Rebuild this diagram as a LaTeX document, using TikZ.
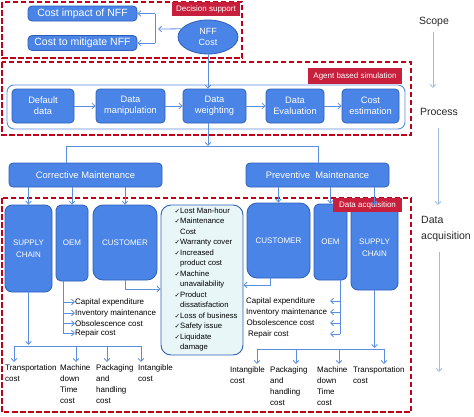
\documentclass[tikz,border=0pt]{standalone}
\usepackage{fontspec}
\setmainfont{Liberation Sans}
\newfontfamily\symfont{DejaVu Sans}
\usetikzlibrary{arrows.meta,shapes.geometric}
\definecolor{bfill}{HTML}{4A84E6}
\definecolor{bdark}{HTML}{2E5FB8}
\definecolor{lineb}{HTML}{5A8EE0}
\definecolor{lightb}{HTML}{9BBCEB}
\definecolor{dred}{HTML}{C00018}
\definecolor{lred}{HTML}{C8203C}
\definecolor{cyanf}{HTML}{E8F6F8}
\newcommand\ck{\makebox[5.5pt][l]{\symfont\fontsize{6.5}{6}\selectfont ✓}}
\tikzset{
  bbox/.style={draw=bdark, fill=bfill, line width=0.8pt, rounded corners=4pt, text=white, align=center, inner sep=0pt},
  dashbox/.style={draw=dred, line width=1.8pt, dash pattern=on 5.5pt off 2.5pt},
  redlab/.style={fill=lred, text=white, inner sep=0pt, font=\fontsize{8}{9}\selectfont},
  conn/.style={draw=lineb, line width=0.8pt},
  arr/.style={conn, -{Straight Barb[length=3pt,width=5.5pt]}},
  rarr/.style={draw=lightb, line width=0.8pt, -{Straight Barb[length=3pt,width=5.5pt]}},
  txt/.style={inner sep=0pt, text=black, font=\fontsize{8}{11}\selectfont, align=left},
  pbox/.style={bbox, font=\fontsize{9.3}{11}\selectfont, minimum height=34pt},
  sbox/.style={bbox, rounded corners=7pt, font=\fontsize{8}{12}\selectfont},
}
\begin{document}
\begin{tikzpicture}[x=1pt,y=-1pt]
\useasboundingbox (0,0) rectangle (474,416);
% ---------- Decision support ----------
\draw[dashbox] (2,2) rectangle (242,58);
\node[redlab, minimum width=68pt, minimum height=14pt] (dslab) at (206,9) {Decision support};
\node[bbox, minimum width=109pt, minimum height=15pt, font=\fontsize{10.5}{12}\selectfont] (cimp) at (82.5,13.5) {Cost impact of NFF};
\node[bbox, minimum width=109pt, minimum height=15pt, font=\fontsize{10.5}{12}\selectfont] (cmit) at (82.5,43) {Cost to mitigate NFF};
\node[ellipse, draw=bdark, fill=bfill, line width=0.8pt, text=white, align=center, inner sep=0pt, minimum width=60pt, minimum height=34pt, font=\fontsize{9}{11}\selectfont] (nff) at (208,37) {NFF\\Cost};
\coordinate (bar) at (155,29);
\draw[arr] (nff.163) -- (158,29);
\draw[conn] (155,13.5) -- (155,43);
\draw[arr] (cimp.east -| bar) -- (cimp.east);
\draw[arr] (cmit.east -| bar) -- (cmit.east);
% ---------- Agent based simulation ----------
\draw[dashbox] (2,62) rectangle (411,135);
\node[redlab, minimum width=94pt, minimum height=16pt] (ablab) at (355,76) {Agent based simulation};
\draw[draw=lineb, line width=0.9pt, fill=white, rounded corners=7pt] (7,85) rectangle (405,129);
\node[pbox, minimum width=62pt] (def) at (43,106) {Default\\data};
\node[pbox, minimum width=69pt] (man) at (130.5,106) {Data\\manipulation};
\node[pbox, minimum width=63pt] (wei) at (214.5,106) {Data\\weighting};
\node[pbox, minimum width=58pt] (eva) at (295,106) {Data\\Evaluation};
\node[pbox, minimum width=57pt] (est) at (370.5,106) {Cost\\estimation};
\draw[arr] (def) -- (man);
\draw[arr] (man) -- (wei);
\draw[arr] (wei) -- (eva);
\draw[arr] (eva) -- (est);
\draw[arr] (nff.south) -- (nff.south |- wei.north);
% ---------- Maintenance ----------
\node[bbox, minimum width=153pt, minimum height=24pt, font=\fontsize{9.4}{11}\selectfont] (corr) at (85.5,175) {Corrective Maintenance};
\node[bbox, minimum width=143pt, minimum height=24pt, font=\fontsize{9.4}{11}\selectfont] (prev) at (317.5,175) {Preventive~ Maintenance};
\coordinate (split) at (208,146);
\coordinate (cL) at (66,146);
\coordinate (cR) at (318,146);
\draw[arr] (wei.south -| split) -- (split);
\draw[conn] (corr.north -| cL) -- (cL) -- (cR) -- (prev.north -| cR);
% ---------- Data acquisition ----------
\draw[dashbox] (2,198) rectangle (411,412);
\node[sbox, minimum width=47pt, minimum height=87pt] (lsc) at (28.5,248.5) {SUPPLY\\CHAIN};
\node[sbox, rounded corners=5pt, minimum width=32pt, minimum height=76pt] (loem) at (72,243) {OEM};
\node[sbox, rounded corners=10pt, minimum width=64pt, minimum height=75pt] (lcus) at (125,242.5) {CUSTOMER};
\node[draw=bdark, fill=cyanf, line width=0.9pt, rounded corners=10pt, minimum width=82pt, minimum height=150pt, inner sep=0pt] (mid) at (202,280) {};
\node[sbox, rounded corners=10pt, minimum width=63pt, minimum height=75pt] (rcus) at (278.5,240.5) {CUSTOMER};
\node[sbox, rounded corners=5pt, minimum width=33pt, minimum height=76pt] (roem) at (330.5,242) {OEM};
\node[sbox, minimum width=47pt, minimum height=84pt] (rsc) at (374.5,248) {SUPPLY\\CHAIN};
\node[redlab, minimum width=69pt, minimum height=14pt] (dalab) at (367.5,205) {Data acquisition};
% arrows from maintenance
\draw[arr] (corr.south -| lsc) -- (lsc.north);
\draw[arr] (corr.south -| loem) -- (loem.north);
\draw[arr] (corr.south -| lcus) -- (lcus.north);
\draw[arr] (prev.south -| rcus) -- (rcus.north);
\draw[arr] (prev.south -| roem) -- (roem.north);
\draw[arr] (prev.south -| rsc) -- (rsc.north);
% checklist
\node[txt, anchor=north west, font=\fontsize{7.7}{10.5}\selectfont] (cl) at (174.5,207.5) {\ck Lost Man-hour\\ \ck Maintenance\\ \hspace*{5.5pt}Cost\\ \ck Warranty cover\\ \ck Increased\\ \hspace*{5.5pt}product cost\\ \ck Machine\\ \hspace*{5.5pt}unavailability\\ \ck Product\\ \hspace*{5.5pt}dissatisfaction\\ \ck Loss of business\\ \ck Safety issue\\ \ck Liquidate\\ \hspace*{5.5pt}damage};
% customer connectors
\draw[arr] (lcus.south) -- (lcus.south |- 0,289) -- (mid.west |- 0,289);
\coordinate (rcx) at (270,285);
\draw[arr] (rcus.south -| rcx) -- (rcx) -- (mid.east |- rcx);
% left OEM costs
\node[txt, anchor=west] (lc1) at (75,302) {Capital expenditure};
\node[txt, anchor=west] (lc2) at (75,313) {Inventory maintenance};
\node[txt, anchor=west] (lc3) at (75,323.5) {Obsolescence cost};
\node[txt, anchor=west] (lc4) at (75,333) {Repair cost};
\coordinate (lox) at (63,333);
\draw[conn] (loem.south -| lox) -- (lox);
\draw[arr] (lc1.west -| lox) -- (lc1.west);
\draw[arr] (lc2.west -| lox) -- (lc2.west);
\draw[arr] (lc3.west -| lox) -- (lc3.west);
\draw[arr] (lox) -- (lc4.west);
% right OEM costs
\node[txt, anchor=west] (rc1) at (246,301) {Capital expenditure};
\node[txt, anchor=west] (rc2) at (246,312) {Inventory maintenance};
\node[txt, anchor=west] (rc3) at (246.5,323) {Obsolescence cost};
\node[txt, anchor=west] (rc4) at (248,334) {Repair cost};
\coordinate (rox) at (340,334);
\coordinate (rtip) at (330,0);
\draw[conn] (roem.south -| rox) -- (rox);
\draw[arr] (rc1 -| rox) -- (rc1 -| rtip);
\draw[arr] (rc2 -| rox) -- (rc2 -| rtip);
\draw[arr] (rc3 -| rox) -- (rc3 -| rtip);
\draw[arr] (rox) -- (rc4 -| rtip);
% left supply chain costs
\draw[arr] (lsc.south) -- (28.5,345);
\draw[conn] (14,346) -- (141,346);
\node[txt, anchor=north west] (lt1) at (5,364.5) {Transportation\\cost};
\node[txt, anchor=north west] (lt2) at (60,364.5) {Machine\\down\\Time\\cost};
\node[txt, anchor=north west] (lt3) at (96,364.5) {Packaging\\and\\handling\\cost};
\node[txt, anchor=north west] (lt4) at (138,364.5) {Intangible\\cost};
\draw[arr] (14,346) -- (14,362);
\draw[arr] (76,346) -- (76,362);
\draw[arr] (107,346) -- (107,362);
\draw[arr] (141,346) -- (141,362);
% right supply chain costs
\draw[arr] (rsc.south) -- (374.5,348);
\draw[conn] (257,349) -- (384,349);
\node[txt, anchor=north west] (rt1) at (230,366.5) {Intangible\\cost};
\node[txt, anchor=north west] (rt2) at (270,366.5) {Packaging\\and\\handling\\cost};
\node[txt, anchor=north west] (rt3) at (317,366.5) {Machine\\down\\Time\\cost};
\node[txt, anchor=north west] (rt4) at (353,366.5) {Transportation\\cost};
\draw[arr] (257,349) -- (257,364);
\draw[arr] (296,349) -- (296,364);
\draw[arr] (339,349) -- (339,364);
\draw[arr] (384,349) -- (384,364);
% ---------- right column ----------
\node[inner sep=0pt, font=\fontsize{10.5}{12}\selectfont, text=black!85] (scope) at (434,22) {Scope};
\node[inner sep=0pt, font=\fontsize{10.5}{12}\selectfont, text=black!85] (process) at (439,112) {Process};
\node[inner sep=0pt, anchor=north west, align=left, font=\fontsize{10.5}{16}\selectfont, text=black!85] (dacq) at (421,216) {Data\\acquisition};
\draw[rarr] (433,32) -- (433,88);
\draw[rarr] (438,128) -- (438,205);
\draw[rarr] (439,252) -- (439,372);
\end{tikzpicture}
\end{document}
